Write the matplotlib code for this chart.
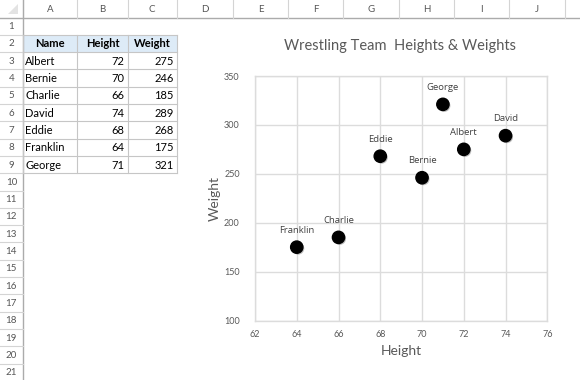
import matplotlib
matplotlib.use("Agg")
import matplotlib.pyplot as plt
import matplotlib.patheffects as pe
from matplotlib.patches import Rectangle, Polygon

# data (sheet A2:C9)
names = ["Albert", "Bernie", "Charlie", "David", "Eddie", "Franklin", "George"]
heights = [72, 70, 66, 74, 68, 64, 71]
weights = [275, 246, 185, 289, 268, 175, 321]
headers = ["Name", "Height", "Weight"]

col_letters = ["A", "B", "C", "D", "E", "F", "G", "H", "I", "J"]
x_ticks = [62, 64, 66, 68, 70, 72, 74, 76]
y_ticks = [100, 150, 200, 250, 300, 350]

W, H = 580, 380
FONT = ["Lato", "DejaVu Sans"]
plt.rcParams["font.family"] = FONT

# sheet geometry in pixels
col_edges = [22.7, 77.3, 127.7, 176.7, 232.7, 288.3, 343.3, 399.0, 454.3, 509.3, 565.0]
head_h = 17.5
row_h = 17.3
n_rows = 21

fig = plt.figure(figsize=(W / 100, H / 100), dpi=100)
bg = fig.add_axes([0, 0, 1, 1])
bg.set_xlim(0, W)
bg.set_ylim(H, 0)
bg.axis("off")

GRID = "#d4d4d4"
HEAD_TXT = "#555555"

# column header strip
bg.plot([0, W], [head_h, head_h], color="#ababab", lw=1.0)
for x in col_edges:
    bg.plot([x, x], [0, head_h], color=GRID, lw=0.8)
for i, lab in enumerate(col_letters):
    cx = (col_edges[i] + col_edges[i + 1]) / 2
    bg.text(cx, head_h / 2 + 0.5, lab, ha="center", va="center", fontsize=7, color=HEAD_TXT)
bg.add_patch(Polygon([[18, 4], [18, 14], [8, 14]], closed=True, color="#e3e3e3", lw=0))

# row header strip
bg.plot([col_edges[0], col_edges[0]], [0, H], color="#ababab", lw=1.0)
for r in range(1, n_rows + 1):
    y1 = head_h + row_h * r
    bg.plot([0, col_edges[0]], [y1, y1], color=GRID, lw=0.8)
    bg.text(col_edges[0] / 2, y1 - row_h / 2 + 0.5, str(r), ha="center", va="center",
            fontsize=7, color=HEAD_TXT)

# table A2:C9
top = head_h + row_h
bg.add_patch(Rectangle((col_edges[0], top), col_edges[3] - col_edges[0], row_h,
                       facecolor="#ddebf7", edgecolor="none"))
n_tab = len(names) + 1
for r in range(n_tab + 1):
    y = top + r * row_h
    bg.plot([col_edges[0], col_edges[3]], [y, y], color="#c6c6c6", lw=0.8)
for c in range(4):
    bg.plot([col_edges[c], col_edges[c]], [top, top + n_tab * row_h], color="#c6c6c6", lw=0.8)
for c, hd in enumerate(headers):
    cx = (col_edges[c] + col_edges[c + 1]) / 2
    bg.text(cx, top + row_h / 2 + 0.5, hd, ha="center", va="center", fontsize=8,
            fontweight="bold", color="#000000")
for i, (nm, ht, wt) in enumerate(zip(names, heights, weights)):
    cy = top + row_h * (i + 1.5) + 0.5
    bg.text(col_edges[0] + 2.5, cy, nm, ha="left", va="center", fontsize=8, color="#000000")
    bg.text(col_edges[2] - 3, cy, str(ht), ha="right", va="center", fontsize=8, color="#000000")
    bg.text(col_edges[3] - 3, cy, str(wt), ha="right", va="center", fontsize=8, color="#000000")

# chart
px_l, px_r, px_t, px_b = 255, 547.3, 76, 320.5
ax = fig.add_axes([px_l / W, 1 - px_b / H, (px_r - px_l) / W, (px_b - px_t) / H])
ax.set_xlim(62, 76)
ax.set_ylim(100, 350)
ax.set_xticks(x_ticks)
ax.set_yticks(y_ticks)
ax.grid(True, color="#dcdcdc", lw=1.0)
ax.set_axisbelow(True)
for sp in ax.spines.values():
    sp.set_color("#dcdcdc")
    sp.set_linewidth(1.0)
ax.tick_params(length=0, labelsize=6.5, colors="#595959")
ax.tick_params(axis="y", pad=11)
ax.tick_params(axis="x", pad=7)

ax.scatter(heights, weights, s=78, color="black", zorder=3,
           path_effects=[pe.SimplePatchShadow(offset=(1, -1), alpha=0.25), pe.Normal()])
for nm, ht, wt in zip(names, heights, weights):
    ax.annotate(nm, (ht, wt), xytext=(0, 9), textcoords="offset points", ha="center",
                va="bottom", fontsize=6.8, color="#404040", family=["Open Sans", "DejaVu Sans"])

ax.set_xlabel("Height", fontsize=10, color="#595959", labelpad=4)
ax.set_ylabel("Weight", fontsize=10, color="#595959", labelpad=2)
fig.text(400 / W, 1 - 45.7 / H, "Wrestling Team  Heights & Weights",
         ha="center", va="center", fontsize=10.5, color="#595959")

fig.savefig("out.png", dpi=100)
